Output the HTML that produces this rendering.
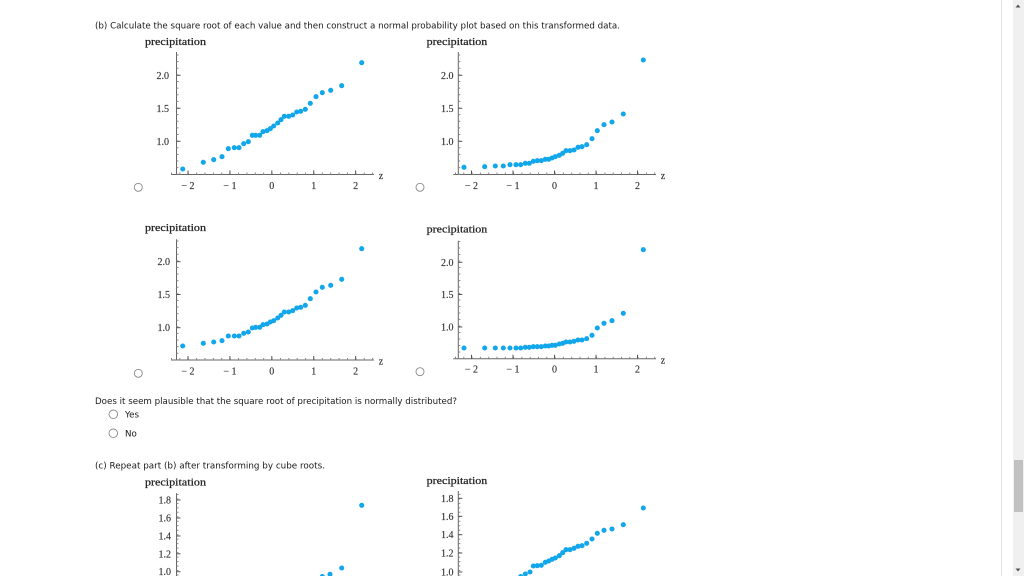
<!DOCTYPE html>
<html><head><meta charset="utf-8"><style>
html,body{margin:0;padding:0;background:#fff;width:1024px;height:576px;overflow:hidden}
svg{display:block}
.t{font-family:"DejaVu Sans","Liberation Sans",sans-serif;font-size:8.7px;fill:#1a1a1a}
.tl{font-family:"Liberation Serif",serif;font-size:11px;fill:#222;stroke:#222;stroke-width:0.25}
.tk{font-family:"Liberation Serif",serif;font-size:10px;fill:#333;stroke:#333;stroke-width:0.15}
.ax{stroke:#666;stroke-width:1;fill:none}
.mn{stroke:#888;stroke-width:2;fill:none}
.mj{stroke:#555;stroke-width:1}
.d circle{fill:#12a6ea}
.r{fill:#fff;stroke:#8a8a8a;stroke-width:0.9}
</style></head><body>
<svg width="1024" height="576" viewBox="0 0 1024 576" xmlns="http://www.w3.org/2000/svg">
<rect width="1024" height="576" fill="#fff"/>
<line x1="1001.5" y1="0" x2="1001.5" y2="576" stroke="#e4e4e4" stroke-width="1"/>
<rect x="1013" y="0" width="11" height="576" fill="#f0f0f0"/>
<rect x="1014" y="460" width="9" height="52" fill="#c1c1c1"/>
<polygon points="1015.5,7.5 1020.5,7.5 1018,4.5" fill="#555"/>
<polygon points="1015.5,568.5 1020.5,568.5 1018,571.5" fill="#555"/>

<text class="t" x="95" y="28.5" textLength="525" lengthAdjust="spacingAndGlyphs">(b) Calculate the square root of each value and then construct a normal probability plot based on this transformed data.</text>
<text class="t" x="95" y="404" textLength="362" lengthAdjust="spacingAndGlyphs">Does it seem plausible that the square root of precipitation is normally distributed?</text>
<circle class="r" cx="113.3" cy="414.3" r="4.3"/>
<text class="t" x="125" y="417.3">Yes</text>
<circle class="r" cx="113.3" cy="433.3" r="4.3"/>
<text class="t" x="125" y="436.3">No</text>
<text class="t" x="95" y="468.5" textLength="230" lengthAdjust="spacingAndGlyphs">(c) Repeat part (b) after transforming by cube roots.</text>

<circle class="r" cx="138.3" cy="187.3" r="4"/>
<circle class="r" cx="420" cy="187.3" r="4"/>
<circle class="r" cx="138.3" cy="373.3" r="4"/>
<circle class="r" cx="420" cy="371.7" r="4"/>

<!-- ===== Plot TL ===== -->
<text class="tl" x="145" y="45" textLength="61" lengthAdjust="spacingAndGlyphs">precipitation</text>
<line class="ax" x1="176.5" y1="52" x2="176.5" y2="174.5"/>
<line class="ax" x1="171" y1="174.5" x2="374" y2="174.5"/>
<line class="mn" x1="177.5" y1="174.8" x2="177.5" y2="52" stroke-dasharray="1 5.63"/>
<line class="mn" x1="171" y1="173.5" x2="374" y2="173.5" stroke-dasharray="1 7.38"/>
<g class="mj">
<line x1="176.5" y1="75.3" x2="180.5" y2="75.3"/><line x1="176.5" y1="108.3" x2="180.5" y2="108.3"/><line x1="176.5" y1="141.3" x2="180.5" y2="141.3"/>
<line x1="188" y1="174.5" x2="188" y2="170.5"/><line x1="229.9" y1="174.5" x2="229.9" y2="170.5"/><line x1="271.8" y1="174.5" x2="271.8" y2="170.5"/><line x1="313.7" y1="174.5" x2="313.7" y2="170.5"/><line x1="355.6" y1="174.5" x2="355.6" y2="170.5"/>
</g>
<g class="tk" text-anchor="end"><text x="169" y="78.8">2.0</text><text x="169" y="111.8">1.5</text><text x="169" y="144.8">1.0</text></g>
<g class="tk" text-anchor="middle"><text x="188" y="189">− 2</text><text x="229.9" y="189">− 1</text><text x="271.8" y="189">0</text><text x="313.7" y="189">1</text><text x="355.6" y="189">2</text></g>
<text class="tk" x="381" y="179" text-anchor="middle">z</text>
<g class="d">
<circle cx="182.7" cy="169" r="2.55"/><circle cx="203.3" cy="162.3" r="2.55"/><circle cx="213.7" cy="159.7" r="2.55"/><circle cx="222" cy="156.7" r="2.55"/><circle cx="228.3" cy="148.7" r="2.55"/><circle cx="234.3" cy="147.7" r="2.55"/><circle cx="239" cy="147.7" r="2.55"/><circle cx="243.7" cy="143.7" r="2.55"/><circle cx="248.3" cy="141.7" r="2.55"/><circle cx="252.3" cy="135.3" r="2.55"/><circle cx="255.7" cy="135.3" r="2.55"/><circle cx="259.7" cy="135.3" r="2.55"/><circle cx="263" cy="131.7" r="2.55"/><circle cx="267" cy="130.7" r="2.55"/><circle cx="270.3" cy="128.7" r="2.55"/><circle cx="273.7" cy="126" r="2.55"/><circle cx="277.7" cy="123" r="2.55"/><circle cx="281" cy="119.7" r="2.55"/><circle cx="284.3" cy="116.3" r="2.55"/><circle cx="288.7" cy="116.3" r="2.55"/><circle cx="292.7" cy="115" r="2.55"/><circle cx="296.7" cy="112" r="2.55"/><circle cx="300.7" cy="111.3" r="2.55"/><circle cx="305.3" cy="109.3" r="2.55"/><circle cx="310.3" cy="103.3" r="2.55"/><circle cx="316" cy="96.7" r="2.55"/><circle cx="322.3" cy="92.7" r="2.55"/><circle cx="330.7" cy="90.3" r="2.55"/><circle cx="341.7" cy="85.7" r="2.55"/><circle cx="361.7" cy="62.7" r="2.55"/>
</g>

<!-- ===== Plot TR ===== -->
<text class="tl" x="426.7" y="45" textLength="60.6" lengthAdjust="spacingAndGlyphs">precipitation</text>
<line class="ax" x1="458.3" y1="52" x2="458.3" y2="174.5"/>
<line class="ax" x1="453.3" y1="174.5" x2="656" y2="174.5"/>
<line class="mn" x1="459.3" y1="174.8" x2="459.3" y2="52" stroke-dasharray="1 5.63"/>
<line class="mn" x1="455" y1="173.5" x2="656" y2="173.5" stroke-dasharray="1 7.3"/>
<g class="mj">
<line x1="458.3" y1="75.3" x2="462.3" y2="75.3"/><line x1="458.3" y1="108.3" x2="462.3" y2="108.3"/><line x1="458.3" y1="141.3" x2="462.3" y2="141.3"/>
<line x1="471.5" y1="174.5" x2="471.5" y2="170.5"/><line x1="513" y1="174.5" x2="513" y2="170.5"/><line x1="554.5" y1="174.5" x2="554.5" y2="170.5"/><line x1="596" y1="174.5" x2="596" y2="170.5"/><line x1="637.5" y1="174.5" x2="637.5" y2="170.5"/>
</g>
<g class="tk" text-anchor="end"><text x="453.5" y="78.8">2.0</text><text x="453.5" y="111.8">1.5</text><text x="453.5" y="144.8">1.0</text></g>
<g class="tk" text-anchor="middle"><text x="471.5" y="189">− 2</text><text x="513" y="189">− 1</text><text x="554.5" y="189">0</text><text x="596" y="189">1</text><text x="637.5" y="189">2</text></g>
<text class="tk" x="663" y="179" text-anchor="middle">z</text>
<g class="d">
<circle cx="464" cy="167.3" r="2.55"/><circle cx="484.7" cy="166.7" r="2.55"/><circle cx="495.3" cy="166" r="2.55"/><circle cx="503.3" cy="166" r="2.55"/><circle cx="510" cy="164.7" r="2.55"/><circle cx="516" cy="164.7" r="2.55"/><circle cx="520.7" cy="164.7" r="2.55"/><circle cx="525.3" cy="163.3" r="2.55"/><circle cx="529.3" cy="163.3" r="2.55"/><circle cx="533.3" cy="161.3" r="2.55"/><circle cx="537.3" cy="160.7" r="2.55"/><circle cx="541.3" cy="160.7" r="2.55"/><circle cx="545.3" cy="159.3" r="2.55"/><circle cx="548.7" cy="159.3" r="2.55"/><circle cx="552" cy="158" r="2.55"/><circle cx="555.3" cy="156.7" r="2.55"/><circle cx="559.3" cy="155.3" r="2.55"/><circle cx="562.7" cy="153.3" r="2.55"/><circle cx="566" cy="150.7" r="2.55"/><circle cx="570" cy="150.7" r="2.55"/><circle cx="574" cy="150" r="2.55"/><circle cx="578" cy="147.3" r="2.55"/><circle cx="582" cy="146.7" r="2.55"/><circle cx="586.7" cy="144.7" r="2.55"/><circle cx="592" cy="138.7" r="2.55"/><circle cx="597.3" cy="130.7" r="2.55"/><circle cx="604" cy="124.7" r="2.55"/><circle cx="612" cy="122" r="2.55"/><circle cx="623.3" cy="114" r="2.55"/><circle cx="643.3" cy="60" r="2.55"/>
</g>

<!-- ===== Plot ML ===== -->
<text class="tl" x="145" y="231" textLength="61" lengthAdjust="spacingAndGlyphs">precipitation</text>
<line class="ax" x1="176.5" y1="239.3" x2="176.5" y2="360"/>
<line class="ax" x1="171" y1="360" x2="374" y2="360"/>
<line class="mn" x1="177.5" y1="360.3" x2="177.5" y2="239.3" stroke-dasharray="1 5.6"/>
<line class="mn" x1="171" y1="359" x2="374" y2="359" stroke-dasharray="1 7.38"/>
<g class="mj">
<line x1="176.5" y1="261.7" x2="180.5" y2="261.7"/><line x1="176.5" y1="294.5" x2="180.5" y2="294.5"/><line x1="176.5" y1="327.7" x2="180.5" y2="327.7"/>
<line x1="188" y1="360" x2="188" y2="356"/><line x1="229.9" y1="360" x2="229.9" y2="356"/><line x1="271.8" y1="360" x2="271.8" y2="356"/><line x1="313.7" y1="360" x2="313.7" y2="356"/><line x1="355.6" y1="360" x2="355.6" y2="356"/>
</g>
<g class="tk" text-anchor="end"><text x="170" y="265.2">2.0</text><text x="170" y="298">1.5</text><text x="170" y="331.2">1.0</text></g>
<g class="tk" text-anchor="middle"><text x="188" y="374.3">− 2</text><text x="229.9" y="374.3">− 1</text><text x="271.8" y="374.3">0</text><text x="313.7" y="374.3">1</text><text x="355.6" y="374.3">2</text></g>
<text class="tk" x="381" y="364.3" text-anchor="middle">z</text>
<g class="d">
<circle cx="182.7" cy="346" r="2.55"/><circle cx="203.3" cy="343.3" r="2.55"/><circle cx="213.7" cy="342" r="2.55"/><circle cx="222" cy="340.7" r="2.55"/><circle cx="228.3" cy="336" r="2.55"/><circle cx="234.3" cy="336" r="2.55"/><circle cx="239" cy="336" r="2.55"/><circle cx="243.7" cy="333.3" r="2.55"/><circle cx="248.3" cy="332" r="2.55"/><circle cx="252.3" cy="328" r="2.55"/><circle cx="255.7" cy="327.3" r="2.55"/><circle cx="259.7" cy="327.3" r="2.55"/><circle cx="263" cy="324.7" r="2.55"/><circle cx="267" cy="324" r="2.55"/><circle cx="270.3" cy="322" r="2.55"/><circle cx="273.7" cy="320.7" r="2.55"/><circle cx="277.7" cy="318" r="2.55"/><circle cx="281" cy="315.3" r="2.55"/><circle cx="284.3" cy="312" r="2.55"/><circle cx="288.7" cy="312" r="2.55"/><circle cx="292.7" cy="310.7" r="2.55"/><circle cx="296.7" cy="308" r="2.55"/><circle cx="300.7" cy="307.3" r="2.55"/><circle cx="305.3" cy="305.3" r="2.55"/><circle cx="310.3" cy="298.7" r="2.55"/><circle cx="316" cy="292" r="2.55"/><circle cx="322.3" cy="287.3" r="2.55"/><circle cx="330.7" cy="285.3" r="2.55"/><circle cx="341.7" cy="279.3" r="2.55"/><circle cx="361.7" cy="248.7" r="2.55"/>
</g>

<!-- ===== Plot MR ===== -->
<text class="tl" x="426.7" y="232.6" textLength="60.6" lengthAdjust="spacingAndGlyphs">precipitation</text>
<line class="ax" x1="458.3" y1="240.7" x2="458.3" y2="358.7"/>
<line class="ax" x1="453.3" y1="358.7" x2="656" y2="358.7"/>
<line class="mn" x1="459.3" y1="359" x2="459.3" y2="240.7" stroke-dasharray="1 5.5"/>
<line class="mn" x1="455" y1="357.7" x2="656" y2="357.7" stroke-dasharray="1 7.3"/>
<g class="mj">
<line x1="458.3" y1="262.3" x2="462.3" y2="262.3"/><line x1="458.3" y1="294.5" x2="462.3" y2="294.5"/><line x1="458.3" y1="327" x2="462.3" y2="327"/>
<line x1="471.5" y1="358.7" x2="471.5" y2="354.7"/><line x1="513" y1="358.7" x2="513" y2="354.7"/><line x1="554.5" y1="358.7" x2="554.5" y2="354.7"/><line x1="596" y1="358.7" x2="596" y2="354.7"/><line x1="637.5" y1="358.7" x2="637.5" y2="354.7"/>
</g>
<g class="tk" text-anchor="end"><text x="453.5" y="265.8">2.0</text><text x="453.5" y="298">1.5</text><text x="453.5" y="330.5">1.0</text></g>
<g class="tk" text-anchor="middle"><text x="471.5" y="372.3">− 2</text><text x="513" y="372.3">− 1</text><text x="554.5" y="372.3">0</text><text x="596" y="372.3">1</text><text x="637.5" y="372.3">2</text></g>
<text class="tk" x="663" y="363.6" text-anchor="middle">z</text>
<g class="d">
<circle cx="464" cy="348" r="2.55"/><circle cx="484.7" cy="348" r="2.55"/><circle cx="495.3" cy="348" r="2.55"/><circle cx="503.3" cy="348" r="2.55"/><circle cx="510" cy="348" r="2.55"/><circle cx="516" cy="348" r="2.55"/><circle cx="520.7" cy="348" r="2.55"/><circle cx="525.3" cy="347.3" r="2.55"/><circle cx="529.3" cy="347.3" r="2.55"/><circle cx="533.3" cy="346.7" r="2.55"/><circle cx="537.3" cy="346.7" r="2.55"/><circle cx="541.3" cy="346.7" r="2.55"/><circle cx="545.3" cy="346" r="2.55"/><circle cx="548.7" cy="346" r="2.55"/><circle cx="552" cy="345.3" r="2.55"/><circle cx="555.3" cy="345.3" r="2.55"/><circle cx="559.3" cy="344" r="2.55"/><circle cx="562.7" cy="343.3" r="2.55"/><circle cx="566" cy="342" r="2.55"/><circle cx="570" cy="342" r="2.55"/><circle cx="574" cy="341.3" r="2.55"/><circle cx="578" cy="340" r="2.55"/><circle cx="582" cy="340" r="2.55"/><circle cx="586.7" cy="338.7" r="2.55"/><circle cx="592" cy="335.3" r="2.55"/><circle cx="597.3" cy="328" r="2.55"/><circle cx="604" cy="323.3" r="2.55"/><circle cx="612" cy="320.7" r="2.55"/><circle cx="623.3" cy="313.3" r="2.55"/><circle cx="643.3" cy="249.7" r="2.55"/>
</g>

<!-- ===== Plot BL ===== -->
<text class="tl" x="145" y="485.6" textLength="61" lengthAdjust="spacingAndGlyphs">precipitation</text>
<line class="ax" x1="176.5" y1="493.3" x2="176.5" y2="576"/>
<line class="mn" x1="177.5" y1="580" x2="177.5" y2="493.3" stroke-dasharray="1 3.48"/>
<g class="mj">
<line x1="176.5" y1="500" x2="180.5" y2="500"/><line x1="176.5" y1="518" x2="180.5" y2="518"/><line x1="176.5" y1="536" x2="180.5" y2="536"/><line x1="176.5" y1="553.8" x2="180.5" y2="553.8"/><line x1="176.5" y1="571.7" x2="180.5" y2="571.7"/>
</g>
<g class="tk" text-anchor="end"><text x="171" y="503.5">1.8</text><text x="171" y="521.5">1.6</text><text x="171" y="539.5">1.4</text><text x="171" y="557.3">1.2</text><text x="171" y="575.2">1.0</text></g>
<g class="d">
<circle cx="361.7" cy="505.3" r="2.55"/><circle cx="341.7" cy="568" r="2.55"/><circle cx="330" cy="574.3" r="2.55"/><circle cx="322.3" cy="576.5" r="2.55"/>
</g>

<!-- ===== Plot BR ===== -->
<text class="tl" x="426.7" y="484" textLength="60.6" lengthAdjust="spacingAndGlyphs">precipitation</text>
<line class="ax" x1="458.3" y1="491" x2="458.3" y2="576"/>
<line class="mn" x1="459.3" y1="580" x2="459.3" y2="491" stroke-dasharray="1 3.48"/>
<g class="mj">
<line x1="458.3" y1="498.3" x2="462.3" y2="498.3"/><line x1="458.3" y1="516.3" x2="462.3" y2="516.3"/><line x1="458.3" y1="534.7" x2="462.3" y2="534.7"/><line x1="458.3" y1="553" x2="462.3" y2="553"/><line x1="458.3" y1="572" x2="462.3" y2="572"/>
</g>
<g class="tk" text-anchor="end"><text x="453.5" y="501.8">1.8</text><text x="453.5" y="519.8">1.6</text><text x="453.5" y="538.2">1.4</text><text x="453.5" y="556.5">1.2</text><text x="453.5" y="575.5">1.0</text></g>
<g class="d">
<circle cx="643.3" cy="508" r="2.55"/><circle cx="623.3" cy="524.7" r="2.55"/><circle cx="612" cy="529" r="2.55"/><circle cx="604" cy="530.3" r="2.55"/><circle cx="597.3" cy="533.3" r="2.55"/><circle cx="592" cy="539" r="2.55"/><circle cx="586.7" cy="543.3" r="2.55"/><circle cx="582" cy="545.7" r="2.55"/><circle cx="578" cy="546.3" r="2.55"/><circle cx="574" cy="548.3" r="2.55"/><circle cx="570" cy="549.7" r="2.55"/><circle cx="566" cy="549.7" r="2.55"/><circle cx="562.7" cy="552.7" r="2.55"/><circle cx="559.3" cy="555.7" r="2.55"/><circle cx="555.3" cy="558" r="2.55"/><circle cx="552" cy="559.3" r="2.55"/><circle cx="548.7" cy="561" r="2.55"/><circle cx="545.3" cy="562.3" r="2.55"/><circle cx="541.3" cy="565.3" r="2.55"/><circle cx="537.3" cy="565.7" r="2.55"/><circle cx="533.3" cy="566" r="2.55"/><circle cx="530" cy="572" r="2.55"/><circle cx="525.3" cy="574" r="2.55"/><circle cx="520.7" cy="576.5" r="2.55"/>
</g>
</svg>
</body></html>
